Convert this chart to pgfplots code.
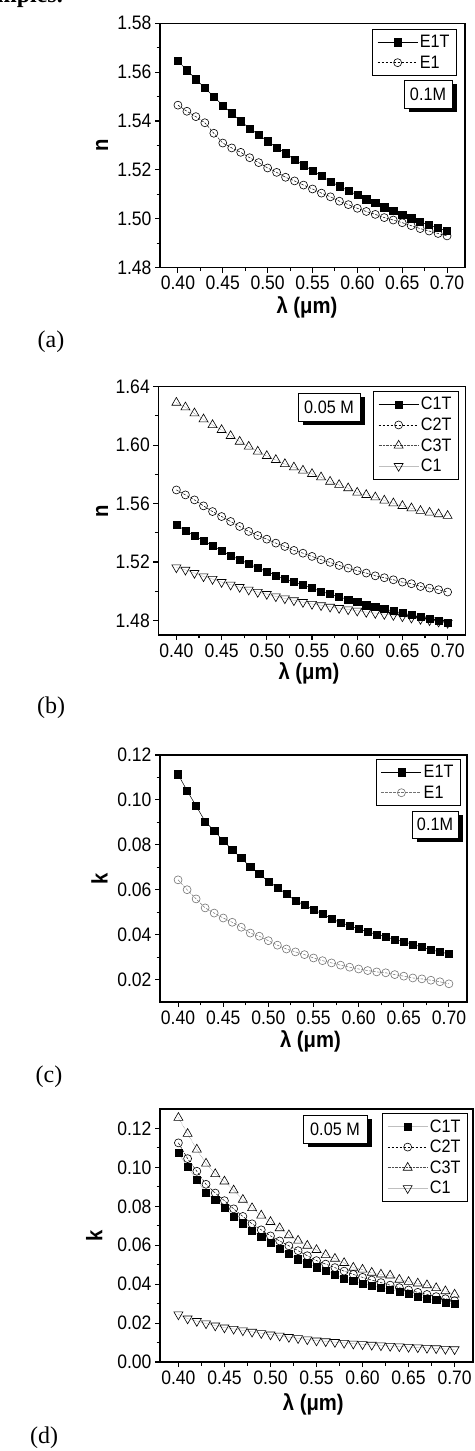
\documentclass[border=0pt]{standalone}
\usepackage{pgfplots}
\usepackage{pgfplotstable}
\pgfplotsset{compat=1.18}
\usepackage{fontspec}
\setmainfont{Liberation Sans}[FakeStretch=0.9]
\newfontfamily\capfont{Liberation Serif}
\usetikzlibrary{shadows}

% refractive index n, 0.1 M films
\pgfplotstableread{
x    E1T     E1
0.40 1.5646 1.5465
0.41 1.5608 1.5440
0.42 1.5571 1.5418
0.43 1.5535 1.5393
0.44 1.5500 1.5350
0.45 1.5464 1.5310
0.46 1.5432 1.5290
0.47 1.5399 1.5272
0.48 1.5370 1.5250
0.49 1.5344 1.5230
0.50 1.5317 1.5208
0.51 1.5292 1.5190
0.52 1.5268 1.5170
0.53 1.5242 1.5155
0.54 1.5219 1.5138
0.55 1.5197 1.5122
0.56 1.5175 1.5105
0.57 1.5153 1.5090
0.58 1.5133 1.5072
0.59 1.5115 1.5058
0.60 1.5097 1.5043
0.61 1.5080 1.5030
0.62 1.5065 1.5018
0.63 1.5047 1.5005
0.64 1.5032 1.4995
0.65 1.5016 1.4984
0.66 1.5002 1.4972
0.67 1.4987 1.4960
0.68 1.4975 1.4950
0.69 1.4962 1.4940
0.70 1.4951 1.4930
}\tabNa

% refractive index n, 0.05 M films
\pgfplotstableread{
x    C1T    C2T    C3T    C1
0.40 1.5454 1.5693 1.6291 1.5162
0.41 1.5415 1.5659 1.6259 1.5146
0.42 1.5381 1.5625 1.6218 1.5124
0.43 1.5345 1.5584 1.6177 1.5101
0.44 1.5313 1.5545 1.6138 1.5083
0.45 1.5276 1.5511 1.6104 1.5062
0.46 1.5244 1.5477 1.6063 1.5044
0.47 1.5215 1.5443 1.6024 1.5028
0.48 1.5188 1.5409 1.5990 1.5010
0.49 1.5158 1.5381 1.5956 1.4994
0.50 1.5135 1.5356 1.5926 1.4980
0.51 1.5108 1.5329 1.5899 1.4964
0.52 1.5083 1.5306 1.5871 1.4950
0.53 1.5062 1.5279 1.5848 1.4937
0.54 1.5044 1.5260 1.5826 1.4925
0.55 1.5021 1.5238 1.5803 1.4912
0.56 1.4998 1.5215 1.5780 1.4903
0.57 1.4980 1.5197 1.5750 1.4893
0.58 1.4960 1.5176 1.5728 1.4884
0.59 1.4944 1.5158 1.5705 1.4875
0.60 1.4925 1.5140 1.5675 1.4866
0.61 1.4907 1.5124 1.5659 1.4857
0.62 1.4893 1.5105 1.5643 1.4850
0.63 1.4877 1.5092 1.5621 1.4843
0.64 1.4864 1.5078 1.5602 1.4836
0.65 1.4850 1.5062 1.5584 1.4827
0.66 1.4836 1.5051 1.5568 1.4818
0.67 1.4823 1.5032 1.5550 1.4809
0.68 1.4809 1.5021 1.5538 1.4800
0.69 1.4795 1.5010 1.5527 1.4791
0.70 1.4782 1.4994 1.5516 1.4782
}\tabNb

% extinction coefficient k, 0.1 M films
\pgfplotstableread{
x    E1T    E1
0.40 0.1114 0.0644
0.41 0.1041 0.0600
0.42 0.0973 0.0559
0.43 0.0904 0.0519
0.44 0.0862 0.0496
0.45 0.0818 0.0474
0.46 0.0778 0.0455
0.47 0.0741 0.0433
0.48 0.0702 0.0407
0.49 0.0670 0.0393
0.50 0.0637 0.0373
0.51 0.0610 0.0353
0.52 0.0581 0.0336
0.53 0.0551 0.0323
0.54 0.0532 0.0311
0.55 0.0510 0.0296
0.56 0.0493 0.0284
0.57 0.0471 0.0274
0.58 0.0453 0.0264
0.59 0.0440 0.0255
0.60 0.0425 0.0247
0.61 0.0412 0.0240
0.62 0.0401 0.0234
0.63 0.0391 0.0230
0.64 0.0378 0.0222
0.65 0.0369 0.0215
0.66 0.0356 0.0207
0.67 0.0345 0.0203
0.68 0.0333 0.0197
0.69 0.0323 0.0190
0.70 0.0314 0.0181
}\tabKc

% extinction coefficient k, 0.05 M films
\pgfplotstableread{
x    C1T    C2T    C3T    C1
0.40 0.1074 0.1126 0.1255 0.0244
0.41 0.1002 0.1045 0.1173 0.0223
0.42 0.0937 0.0980 0.1092 0.0210
0.43 0.0868 0.0913 0.1020 0.0198
0.44 0.0834 0.0868 0.0966 0.0187
0.45 0.0791 0.0829 0.0928 0.0177
0.46 0.0748 0.0787 0.0882 0.0170
0.47 0.0713 0.0748 0.0834 0.0162
0.48 0.0676 0.0710 0.0791 0.0155
0.49 0.0645 0.0679 0.0753 0.0148
0.50 0.0614 0.0648 0.0720 0.0141
0.51 0.0583 0.0622 0.0688 0.0135
0.52 0.0555 0.0597 0.0652 0.0128
0.53 0.0528 0.0572 0.0624 0.0122
0.54 0.0507 0.0546 0.0598 0.0116
0.55 0.0487 0.0521 0.0576 0.0110
0.56 0.0468 0.0503 0.0550 0.0106
0.57 0.0450 0.0485 0.0531 0.0102
0.58 0.0428 0.0467 0.0509 0.0098
0.59 0.0416 0.0450 0.0485 0.0094
0.60 0.0404 0.0435 0.0475 0.0091
0.61 0.0392 0.0421 0.0459 0.0088
0.62 0.0382 0.0408 0.0450 0.0085
0.63 0.0373 0.0395 0.0445 0.0082
0.64 0.0360 0.0382 0.0423 0.0080
0.65 0.0349 0.0370 0.0412 0.0077
0.66 0.0335 0.0358 0.0404 0.0075
0.67 0.0327 0.0347 0.0395 0.0072
0.68 0.0318 0.0336 0.0380 0.0070
0.69 0.0306 0.0325 0.0364 0.0067
0.70 0.0298 0.0315 0.0347 0.0065
}\tabKd

\pgfplotsset{
  panel/.style={
    scale only axis, anchor=north west,
    xmin=0.38, xmax=0.72,
    xtick={0.40,0.45,0.50,0.55,0.60,0.65,0.70},
    minor x tick num=1, minor y tick num=1,
    tick align=outside, xtick pos=bottom, ytick pos=left,
    major tick length=5pt, minor tick length=3.5pt,
    axis line style={line width=1.4pt},
    every tick/.style={black, line width=1.1pt},
    tick label style={font=\fontsize{19.5}{22}\selectfont},
    /pgf/number format/assume math mode=true,
    xticklabel style={/pgf/number format/.cd, fixed, fixed zerofill, precision=2},
    yticklabel style={/pgf/number format/.cd, fixed, fixed zerofill, precision=2},
    xlabel={λ (μm)},
    label style={font=\fontsize{22.5}{26}\selectfont\bfseries},
    legend style={draw=black, line width=0.9pt, fill=white,
      font=\fontsize{18}{20}\selectfont, anchor=north east,
      inner xsep=5pt, inner ysep=4pt, row sep=2.5pt},
    legend cell align=left,
    legend image code/.code={%
      \draw[mark repeat=2,mark phase=2] plot coordinates {(0pt,0pt)(20pt,0pt)(40pt,0pt)};},
  },
  sqr/.style={black, line width=0.5pt, mark=square*, mark size=3.6pt,
    mark options={solid, fill=black}},
  circ/.style={black, line width=0.5pt, dash pattern=on 2.5pt off 1.5pt, mark=o, mark size=4pt,
    mark options={solid, fill=white, line width=0.6pt}},
  tri/.style={black!70, line width=0.4pt, densely dotted, mark=triangle, mark size=5.2pt,
    mark options={solid, draw=black, fill=white, line width=0.6pt}},
  dtri/.style={black!25, line width=0.4pt, mark=triangle, mark size=5.2pt,
    mark options={solid, rotate=180, draw=black, fill=white, line width=0.6pt}},
}
\tikzset{
  inset/.style={draw=black, line width=0.8pt, fill=white, inner sep=0pt,
    font=\fontsize{18}{20}\selectfont,
    drop shadow={shadow xshift=4.5pt, shadow yshift=-4.5pt, fill=black, opacity=1}},
  tag/.style={font=\capfont\fontsize{24}{26}\selectfont},
}

\begin{document}
\begin{tikzpicture}[x=1pt, y=1pt]
\useasboundingbox (0pt,0pt) rectangle (474pt,1451pt);

% caption fragment running in from above
\node[anchor=base east, font=\capfont\bfseries\fontsize{24}{26}\selectfont, inner sep=0pt] at (63pt,1448.5pt) {amples.};

% (a) n, 0.1 M
\begin{axis}[panel, at={(160pt,1427.7pt)}, width=305pt, height=244.4pt,
  ymin=1.48, ymax=1.58, ytick={1.48,1.50,1.52,1.54,1.56,1.58},
  ylabel={n},
  ylabel style={at={(axis description cs:-0.19,0.5)}, anchor=center},
  xlabel style={at={(axis description cs:0.482,-0.164)}, anchor=center},
  legend style={at={(0.974,0.977)}}]
  \addplot[sqr] table[x=x, y=E1T] {\tabNa};
  \addplot[circ] table[x=x, y=E1] {\tabNa};
  \legend{E1T, E1}
\end{axis}
\node[inset, minimum width=48pt, minimum height=28pt] at (428pt,1357pt) {0.1M};
\node[tag] at (51pt,1109pt) {(a)};

% (b) n, 0.05 M
\begin{axis}[panel, at={(158.3pt,1064.3pt)}, width=307.4pt, height=248.3pt,
  ymin=1.470, ymax=1.640, ytick={1.48,1.52,1.56,1.60,1.64},
  ylabel={n},
  ylabel style={at={(axis description cs:-0.183,0.5)}, anchor=center},
  xlabel style={at={(axis description cs:0.49,-0.153)}, anchor=center},
  legend style={at={(0.978,0.983)}}]
  \addplot[sqr] table[x=x, y=C1T] {\tabNb};
  \addplot[circ] table[x=x, y=C2T] {\tabNb};
  \addplot[tri] table[x=x, y=C3T] {\tabNb};
  \addplot[dtri] table[x=x, y=C1] {\tabNb};
  \legend{C1T, C2T, C3T, C1}
\end{axis}
\node[inset, minimum width=62pt, minimum height=28pt] at (329pt,1044pt) {0.05 M};
\node[tag] at (51pt,743pt) {(b)};

% (c) k, 0.1 M
\begin{axis}[panel, at={(160pt,696pt)}, width=307pt, height=247pt,
  ymin=0.010, ymax=0.120, ytick={0.02,0.04,0.06,0.08,0.10,0.12},
  ylabel={k},
  ylabel style={at={(axis description cs:-0.197,0.5)}, anchor=center},
  xlabel style={at={(axis description cs:0.49,-0.158)}, anchor=center},
  legend style={at={(0.980,0.984)}}]
  \addplot[sqr] table[x=x, y=E1T] {\tabKc};
  \addplot[circ, draw=black!55] table[x=x, y=E1] {\tabKc};
  \legend{E1T, E1}
\end{axis}
\node[inset, minimum width=46pt, minimum height=27pt] at (435pt,626.5pt) {0.1M};
\node[tag] at (49pt,374pt) {(c)};

% (d) k, 0.05 M
\begin{axis}[panel, at={(160pt,342pt)}, width=313pt, height=253pt,
  ymin=0, ymax=0.130, ytick={0,0.02,0.04,0.06,0.08,0.10,0.12},
  ylabel={k},
  ylabel style={at={(axis description cs:-0.21,0.5)}, anchor=center},
  xlabel style={at={(axis description cs:0.49,-0.166)}, anchor=center},
  legend style={at={(0.984,0.984)}}]
  \addplot[sqr, draw=black!25, mark options={solid, fill=black, draw=black}] table[x=x, y=C1T] {\tabKd};
  \addplot[circ] table[x=x, y=C2T] {\tabKd};
  \addplot[tri] table[x=x, y=C3T] {\tabKd};
  \addplot[dtri] table[x=x, y=C1] {\tabKd};
  \legend{C1T, C2T, C3T, C1}
\end{axis}
\node[inset, minimum width=64pt, minimum height=28pt] at (335pt,322pt) {0.05 M};
\node[tag] at (44pt,13pt) {(d)};
\end{tikzpicture}
\end{document}
